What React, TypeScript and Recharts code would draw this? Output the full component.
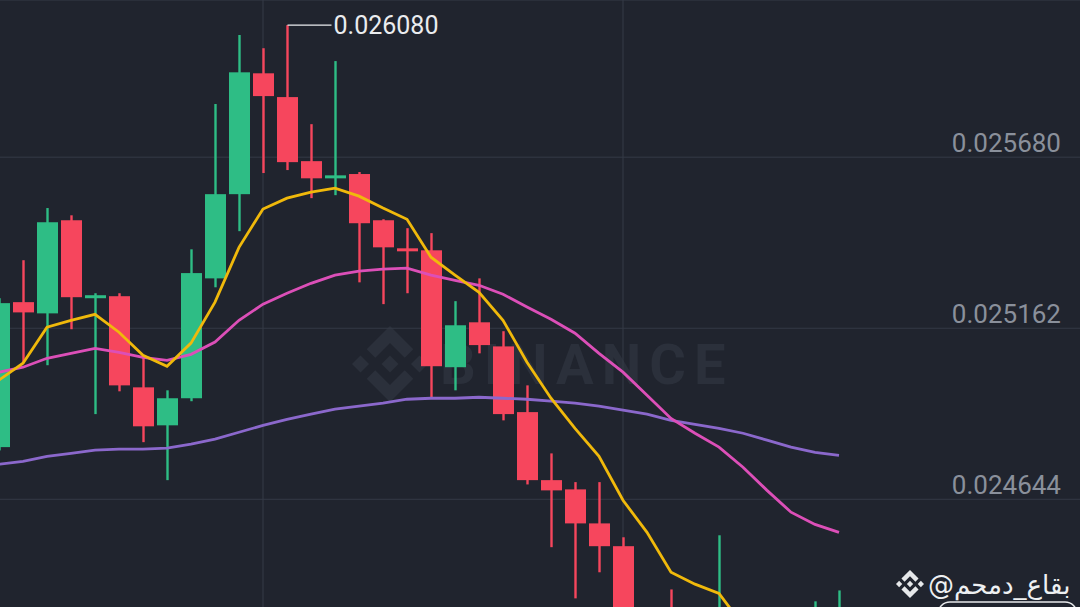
import { ComposedChart, Bar, Line, XAxis, YAxis, CartesianGrid } from 'recharts';

// 15-minute candles, the last ten slots are empty space on the right
const times = [
  '09:00', '09:15', '09:30', '09:45', '10:00', '10:15', '10:30', '10:45', '11:00', '11:15',
  '11:30', '11:45', '12:00', '12:15', '12:30', '12:45', '13:00', '13:15', '13:30', '13:45',
  '14:00', '14:15', '14:30', '14:45', '15:00', '15:15', '15:30', '15:45', '16:00', '16:15',
  '16:30', '16:45', '17:00', '17:15', '17:30', '17:45', '18:00', '18:15', '18:30', '18:45',
  '19:00', '19:15', '19:30', '19:45', '20:00', '20:15',
];

const open = [
  0.024802, 0.025241, 0.025207, 0.025489, 0.025256, 0.025259, 0.024983, 0.024868, 0.02495, 0.025313,
  0.025568, 0.025934, 0.025862, 0.025668, 0.025616, 0.025629, 0.025489, 0.025404, 0.025398, 0.025044,
  0.02518, 0.025107, 0.024908, 0.024702, 0.024674, 0.024571, 0.024502, 0.024217, 0.024141, 0.024066,
  0.024035, 0.024217, 0.024126, 0.024217, 0.024156, 0.024247,
];
const high = [
  0.025253, 0.025368, 0.025526, 0.025504, 0.025268, 0.025268, 0.025074, 0.024974, 0.025401, 0.025841,
  0.02605, 0.02601, 0.02608, 0.02578, 0.025971, 0.025635, 0.025492, 0.025465, 0.02545, 0.025244,
  0.025313, 0.025153, 0.024989, 0.024783, 0.024696, 0.024696, 0.024529, 0.024262, 0.024371, 0.024187,
  0.024535, 0.024278, 0.024293, 0.024262, 0.024335, 0.024368,
];
const low = [
  0.024792, 0.025056, 0.02505, 0.025159, 0.024902, 0.024971, 0.024817, 0.024702, 0.024941, 0.025286,
  0.025456, 0.025632, 0.025641, 0.025556, 0.025565, 0.025301, 0.025235, 0.025268, 0.02495, 0.024974,
  0.025086, 0.024883, 0.024689, 0.024499, 0.024344, 0.024423, 0.024156, 0.024035, 0.024005, 0.023944,
  0.02399, 0.024066, 0.024066, 0.024096, 0.024126, 0.024217,
];
const close = [
  0.025238, 0.02521, 0.025483, 0.025256, 0.025262, 0.024989, 0.024865, 0.02495, 0.025329, 0.025568,
  0.025937, 0.025865, 0.025665, 0.025616, 0.025625, 0.02548, 0.025407, 0.025395, 0.025047, 0.025171,
  0.025111, 0.024902, 0.024702, 0.024671, 0.024571, 0.024502, 0.024217, 0.024096, 0.024066, 0.024035,
  0.024217, 0.024126, 0.024217, 0.024156, 0.024247, 0.024293,
];

const ma7 = [
  0.025005, 0.025056, 0.025165, 0.025186, 0.025204, 0.02515, 0.02508, 0.025047, 0.025117, 0.025241,
  0.025407, 0.025523, 0.025556, 0.025574, 0.025586, 0.025562, 0.025526, 0.025492, 0.025377, 0.025323,
  0.025271, 0.025186, 0.025059, 0.02495, 0.024859, 0.024774, 0.024641, 0.024544, 0.024423, 0.024387,
  0.024359, 0.024262, 0.024217, 0.024187, 0.024172, 0.024156,
];
const ma25 = [
  0.025029, 0.025044, 0.025071, 0.025086, 0.025101, 0.025089, 0.025074, 0.025065, 0.025083, 0.02512,
  0.025186, 0.025235, 0.025268, 0.025298, 0.025323, 0.025335, 0.025341, 0.025344, 0.025323, 0.025307,
  0.025292, 0.025265, 0.025226, 0.025189, 0.025147, 0.025086, 0.025029, 0.024959, 0.024889, 0.024844,
  0.024802, 0.024741, 0.024671, 0.024605, 0.024568, 0.024544,
];
const ma99 = [
  0.02475, 0.024759, 0.024774, 0.024783, 0.024793, 0.024796, 0.024796, 0.024799, 0.024811, 0.024826,
  0.024847, 0.024868, 0.024886, 0.024902, 0.024917, 0.024926, 0.024935, 0.024947, 0.02495, 0.02495,
  0.024953, 0.02495, 0.024947, 0.024941, 0.024935, 0.024926, 0.024914, 0.024902, 0.024883, 0.024871,
  0.024859, 0.024844, 0.024823, 0.024802, 0.024786, 0.024777,
];

const priceTicks = [0.024644, 0.025162, 0.02568];
const gridTimes = ['11:45', '15:30'];

const BG = '#20242e';
const GRID = '#343a46';
const UP = '#2ebd85';
const DOWN = '#f6465d';

const data = times.map((t, i) =>
  i < open.length
    ? {
        t,
        o: open[i],
        h: high[i],
        l: low[i],
        c: close[i],
        range: [low[i], high[i]],
        ma7: ma7[i],
        ma25: ma25[i],
        ma99: ma99[i],
      }
    : { t }
);

const maxHigh = Math.max(...high);

const Candle = (props: any) => {
  const { x, y, width, height, payload } = props;
  if (!payload || payload.o == null) return null;
  const { o, h, l, c } = payload;
  const color = c >= o ? UP : DOWN;
  const top0 = Math.min(y, y + height);
  const ppu = Math.abs(height) / (h - l);
  const yOf = (v: number) => top0 + (h - v) * ppu;
  const cx = x + width / 2;
  const bodyTop = yOf(Math.max(o, c));
  const bodyH = Math.max(yOf(Math.min(o, c)) - bodyTop, 3);
  const isMax = h === maxHigh;
  return (
    <g>
      <rect x={cx - 1.2} y={yOf(h)} width={2.4} height={yOf(l) - yOf(h)} fill={color} />
      <rect x={x} y={bodyTop} width={width} height={bodyH} fill={color} />
      {isMax && (
        <g>
          <line x1={cx} y1={yOf(h)} x2={cx + 44} y2={yOf(h)} stroke="#eaecef" strokeWidth={1.2} />
          <text x={cx + 46} y={yOf(h) + 9} fill="#eaecef" fontSize={25} fontFamily="Roboto, sans-serif">
            {h.toFixed(6)}
          </text>
        </g>
      )}
    </g>
  );
};

const PriceTick = (props: any) => {
  const { y, payload } = props;
  return (
    <text x={1074} y={y - 5} textAnchor="end" fill="#8a909b" fontSize={26} fontFamily="Roboto, sans-serif">
      {Number(payload.value).toFixed(6)}
    </text>
  );
};

const BinanceLogo = ({ cx, cy, size, fill }: { cx: number; cy: number; size: number; fill: string }) => {
  const s = size / 134;
  return (
    <g transform={`translate(${cx - 64 * s},${cy - 64 * s}) scale(${s})`} fill={fill}>
      <polygon points="38,53 64,27 90,53 105,38 64,-3 23,38" />
      <polygon points="-3,64 12,49 27,64 12,79" />
      <polygon points="38,75 64,101 90,75 105,90 64,131 23,90" />
      <polygon points="101,64 116,49 131,64 116,79" />
      <polygon points="64,49 79,64 64,79 49,64" />
    </g>
  );
};

export default function App() {
  return (
    <div
      style={{
        position: 'absolute',
        left: 0,
        top: 0,
        width: 1080,
        height: 607,
        overflow: 'hidden',
        background: BG,
      }}
    >
      <svg width={1080} height={607} style={{ position: 'absolute', left: 0, top: 0 }}>
        <BinanceLogo cx={390} cy={364} size={76} fill="#2b303b" />
        <text
          x={440}
          y={384}
          fill="#2b303b"
          fontSize={56}
          fontWeight={700}
          letterSpacing={8}
          fontFamily="Roboto, sans-serif"
        >
          BINANCE
        </text>
      </svg>
      <div style={{ position: 'absolute', left: -13, top: 0 }}>
        <ComposedChart width={1104} height={778} data={data} margin={{ top: 0, right: 0, bottom: 0, left: 0 }} barCategoryGap={0}>
          <CartesianGrid stroke={GRID} strokeWidth={1} />
          <XAxis dataKey="t" hide ticks={gridTimes} />
          <YAxis
            orientation="right"
            mirror
            domain={[0.0238, 0.026156]}
            ticks={priceTicks}
            allowDataOverflow
            axisLine={false}
            tickLine={false}
            tick={<PriceTick />}
          />
          <Bar dataKey="range" barSize={21} shape={<Candle />} isAnimationActive={false} />
          <Line type="linear" dataKey="ma99" stroke="#8b68cc" strokeWidth={2.8} dot={false} isAnimationActive={false} />
          <Line type="linear" dataKey="ma25" stroke="#dc4fb8" strokeWidth={2.8} dot={false} isAnimationActive={false} />
          <Line type="linear" dataKey="ma7" stroke="#f0b90b" strokeWidth={2.8} dot={false} isAnimationActive={false} />
        </ComposedChart>
      </div>
      <svg width={1080} height={607} style={{ position: 'absolute', left: 0, top: 0 }}>
        <BinanceLogo cx={910} cy={584} size={28} fill="#e6e8ea" />
        <text
          x={928}
          y={594}
          fill="#eef0f2"
          stroke="#20242e"
          strokeWidth={2}
          paintOrder="stroke"
          fontSize={26}
          fontFamily="'DejaVu Sans', sans-serif"
        >
          @بقاع_دمحم
        </text>
        <rect x={938} y={602} width={139} height={40} rx={12} fill="none" stroke="#e6e8ea" strokeWidth={1.5} />
      </svg>
    </div>
  );
}
